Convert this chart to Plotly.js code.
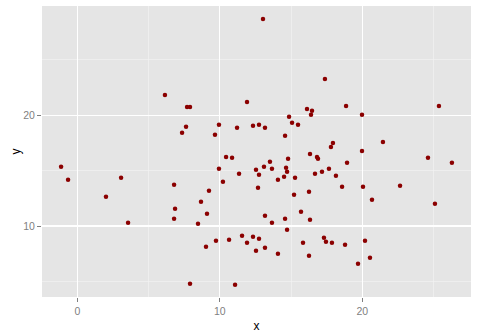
<!DOCTYPE html>
<html>
<head>
<meta charset="utf-8">
<script src="https://cdn.plot.ly/plotly-3.0.1.min.js"></script>
<style>html,body{margin:0;padding:0;background:#fff}#chart{width:480px;height:336px}</style>
</head>
<body>
<div id="chart"></div>
<script>
const xValues = [
  -1.14, -0.65, 2.01, 3.07, 3.56, 6.15, 7.70, 7.91, 7.63, 7.35,
  6.79, 6.86, 6.79, 8.47, 8.68, 7.91, 9.24, 9.10, 9.03, 9.73,
  9.66, 9.94, 9.94, 10.22, 10.44, 10.86, 10.65, 11.21, 11.35, 11.07,
  11.56, 11.91, 11.91, 12.33, 12.33, 12.54, 12.54, 12.68, 12.75, 12.75,
  12.75, 13.03, 13.10, 13.17, 13.17, 13.17, 13.52, 13.66, 13.66, 14.08,
  14.08, 14.51, 14.58, 14.58, 14.65, 14.72, 14.72, 14.79, 14.86, 15.07,
  15.21, 15.28, 15.49, 15.70, 15.84, 16.12, 16.26, 16.26, 16.33, 16.33,
  16.40, 16.47, 16.68, 16.82, 16.89, 17.17, 17.31, 17.38, 17.45, 17.66,
  17.80, 17.87, 17.94, 18.15, 18.58, 18.79, 18.86, 18.93, 19.70, 19.98,
  19.98, 20.05, 20.19, 20.54, 20.68, 21.45, 22.65, 24.61, 25.10, 25.38,
  26.29
];
const yValues = [
  15.34, 14.17, 12.64, 14.35, 10.30, 21.83, 20.75, 20.75, 18.95, 18.41,
  13.72, 11.56, 10.66, 10.21, 12.19, 4.80, 13.18, 11.11, 8.14, 8.68,
  18.23, 19.13, 15.16, 13.99, 16.24, 16.15, 8.77, 18.86, 14.71, 4.71,
  9.13, 8.50, 21.20, 19.04, 9.04, 15.07, 7.77, 13.45, 19.13, 14.62,
  8.86, 28.68, 15.34, 18.86, 10.93, 8.05, 15.79, 15.16, 10.30, 14.17,
  7.50, 14.44, 18.14, 10.66, 15.25, 14.89, 9.67, 16.06, 19.85, 19.31,
  12.82, 14.35, 19.13, 11.29, 8.50, 20.57, 13.09, 7.32, 16.51, 10.57,
  20.03, 20.39, 14.71, 16.24, 16.06, 14.89, 8.95, 23.27, 8.59, 15.16,
  17.14, 8.50, 17.50, 14.53, 13.54, 8.32, 20.84, 15.70, 6.60, 20.03,
  16.78, 13.54, 8.68, 7.14, 12.37, 17.59, 13.63, 16.15, 12.01, 20.84,
  15.70
];
const xTicks = [0, 10, 20];
const yTicks = [10, 20];
const xTitle = "x";
const yTitle = "y";

const trace = {
  type: "scatter",
  mode: "markers",
  x: xValues,
  y: yValues,
  marker: {color: "#8B0000", size: 4.5},
  hoverinfo: "none"
};

const axisCommon = {
  showgrid: true,
  gridcolor: "#FFFFFF",
  gridwidth: 1.2,
  zeroline: false,
  showline: false,
  ticks: "outside",
  ticklen: 4,
  tickwidth: 1,
  tickcolor: "#7F7F7F",
  tickfont: {family: "Liberation Sans, Arial, sans-serif", size: 10.5, color: "#7F7F7F"},
  tickmode: "array",
  minor: {dtick: 5, tick0: 0, showgrid: true, gridcolor: "#F2F2F2", gridwidth: 0.7, ticks: ""}
};

const layout = {
  width: 480,
  height: 336,
  margin: {l: 42, r: 9, t: 6, b: 39},
  paper_bgcolor: "#FFFFFF",
  plot_bgcolor: "#E5E5E5",
  showlegend: false,
  xaxis: Object.assign({}, axisCommon, {
    range: [-2.48, 27.63],
    tickvals: xTicks,
    ticktext: xTicks.map(String),
    title: {text: xTitle, font: {family: "Liberation Sans, Arial, sans-serif", size: 12, color: "#000000"}, standoff: 6}
  }),
  yaxis: Object.assign({}, axisCommon, {
    range: [3.60, 29.85],
    tickvals: yTicks,
    ticktext: yTicks.map(String),
    title: {text: yTitle, font: {family: "Liberation Sans, Arial, sans-serif", size: 12, color: "#000000"}, standoff: 0}
  })
};

Plotly.newPlot("chart", [trace], layout, {displayModeBar: false, staticPlot: true});
</script>
</body>
</html>
